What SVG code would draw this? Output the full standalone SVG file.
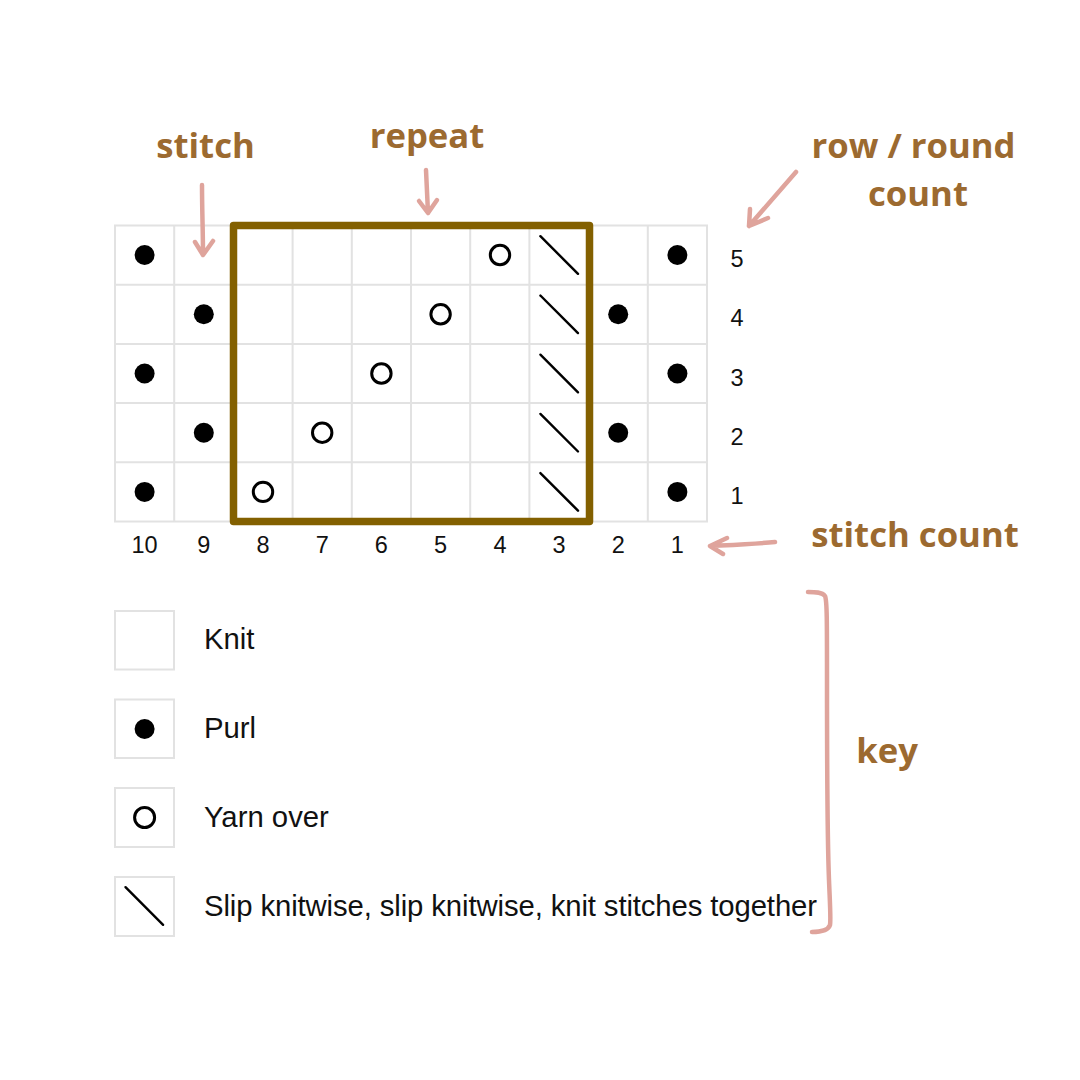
<svg xmlns="http://www.w3.org/2000/svg" width="1080" height="1080" viewBox="0 0 1080 1080">
<style>
.grid{fill:none;stroke:#e2e2e2;stroke-width:2}
.purl{fill:#000}
.yo{fill:none;stroke:#000;stroke-width:3}
.slip{stroke:#000;stroke-width:2.4;stroke-linecap:round}
.num{font:23.5px "Liberation Sans",Arial,sans-serif;fill:#111;text-anchor:middle}
.key{font:29.3px "Liberation Sans",Arial,sans-serif;fill:#111}
.lab{font:700 34.7px "Open Sans",sans-serif;fill:#9c6a30;text-anchor:middle}
.ann{fill:none;stroke:#dfa49c;stroke-width:4.5;stroke-linecap:round;stroke-linejoin:round}
</style>
<defs>
<line id="s" class="slip" x1="-18.800" y1="-18.800" x2="18.800" y2="18.800"/>
</defs>
<rect width="1080" height="1080" fill="#fff"/>
<g id="chart-grid" class="grid">
<rect x="115" y="225.500" width="592" height="296"/>
<path d="M174.200 225.500V521.500M233.400 225.500V521.500M292.600 225.500V521.500M351.800 225.500V521.500M411 225.500V521.500M470.200 225.500V521.500M529.400 225.500V521.500M588.600 225.500V521.500M647.800 225.500V521.500M115 284.700H707M115 343.900H707M115 403.100H707M115 462.300H707"/>
</g>
<g id="chart-symbols">
<circle class="purl" cx="144.600" cy="255" r="10"/><circle class="purl" cx="677.400" cy="255" r="10"/>
<circle class="purl" cx="203.800" cy="314.300" r="10"/><circle class="purl" cx="618.200" cy="314.300" r="10"/>
<circle class="purl" cx="144.600" cy="373.500" r="10"/><circle class="purl" cx="677.400" cy="373.500" r="10"/>
<circle class="purl" cx="203.800" cy="432.700" r="10"/><circle class="purl" cx="618.200" cy="432.700" r="10"/>
<circle class="purl" cx="144.600" cy="491.900" r="10"/><circle class="purl" cx="677.400" cy="491.900" r="10"/>
<circle class="yo" cx="500" cy="255" r="9.700"/>
<circle class="yo" cx="440.600" cy="314.300" r="9.700"/>
<circle class="yo" cx="381.400" cy="373.500" r="9.700"/>
<circle class="yo" cx="322.200" cy="432.700" r="9.700"/>
<circle class="yo" cx="263" cy="491.900" r="9.700"/>
<use href="#s" x="559.200" y="255"/><use href="#s" x="559.200" y="314.300"/><use href="#s" x="559.200" y="373.500"/><use href="#s" x="559.200" y="432.700"/><use href="#s" x="559.200" y="491.900"/>
</g>
<g id="repeat-frame"><rect x="233.500" y="225.500" width="356" height="296" fill="none" stroke="#836000" stroke-width="7.500" stroke-linejoin="round"/></g>
<g id="row-numbers" class="num">
<text x="737" y="266.500">5</text><text x="737" y="326">4</text><text x="737" y="385.500">3</text><text x="737" y="444.500">2</text><text x="737" y="503.500">1</text>
</g>
<g id="stitch-numbers" class="num">
<text x="144.600" y="552.500">10</text><text x="203.800" y="552.500">9</text><text x="263" y="552.500">8</text><text x="322.200" y="552.500">7</text><text x="381.400" y="552.500">6</text><text x="440.600" y="552.500">5</text><text x="500" y="552.500">4</text><text x="559" y="552.500">3</text><text x="618.200" y="552.500">2</text><text x="677.400" y="552.500">1</text>
</g>
<g id="key-knit"><rect class="grid" x="115" y="611" width="59" height="58.500"/><text class="key" x="204" y="649">Knit</text></g>
<g id="key-purl"><rect class="grid" x="115" y="699.500" width="59" height="58.500"/><circle class="purl" cx="144.600" cy="729" r="10"/><text class="key" x="204" y="738">Purl</text></g>
<g id="key-yarn-over"><rect class="grid" x="115" y="788" width="59" height="59"/><circle class="yo" cx="144.600" cy="817.500" r="10"/><text class="key" x="204" y="827">Yarn over</text></g>
<g id="key-slip"><rect class="grid" x="115" y="877" width="59" height="59"/><use href="#s" x="144.300" y="906"/><text class="key" x="204" y="916" textLength="613">Slip knitwise, slip knitwise, knit stitches together</text></g>
<g id="labels">
<text id="label-stitch" class="lab" x="205.500" y="158">stitch</text>
<text id="label-repeat" class="lab" x="427" y="148">repeat</text>
<text id="label-row" class="lab" x="913.500" y="158">row / round</text>
<text id="label-row2" class="lab" x="918" y="206">count</text>
<text id="label-stitch-count" class="lab" x="915" y="547">stitch count</text>
<text id="label-key" class="lab" x="887" y="763">key</text>
</g>
<g id="connectors" class="ann">
<path d="M202 185C202 210 203 232 203 254M195 242L203 255L213 241"/>
<path d="M426 170L428 213M419 201L428 213L437 200"/>
<path d="M796 172L749 226M750 209L749 226L768 218"/>
<path d="M775 542C755 544 730 545 710 546M727 538L710 546L723 554"/>
<path d="M808 592C815 592 822 592 825 596C827 600 827 620 827 680C827 760 827 830 829 880C830 905 831 920 830 925C828 931 820 932 812 932"/>
</g>
</svg>
